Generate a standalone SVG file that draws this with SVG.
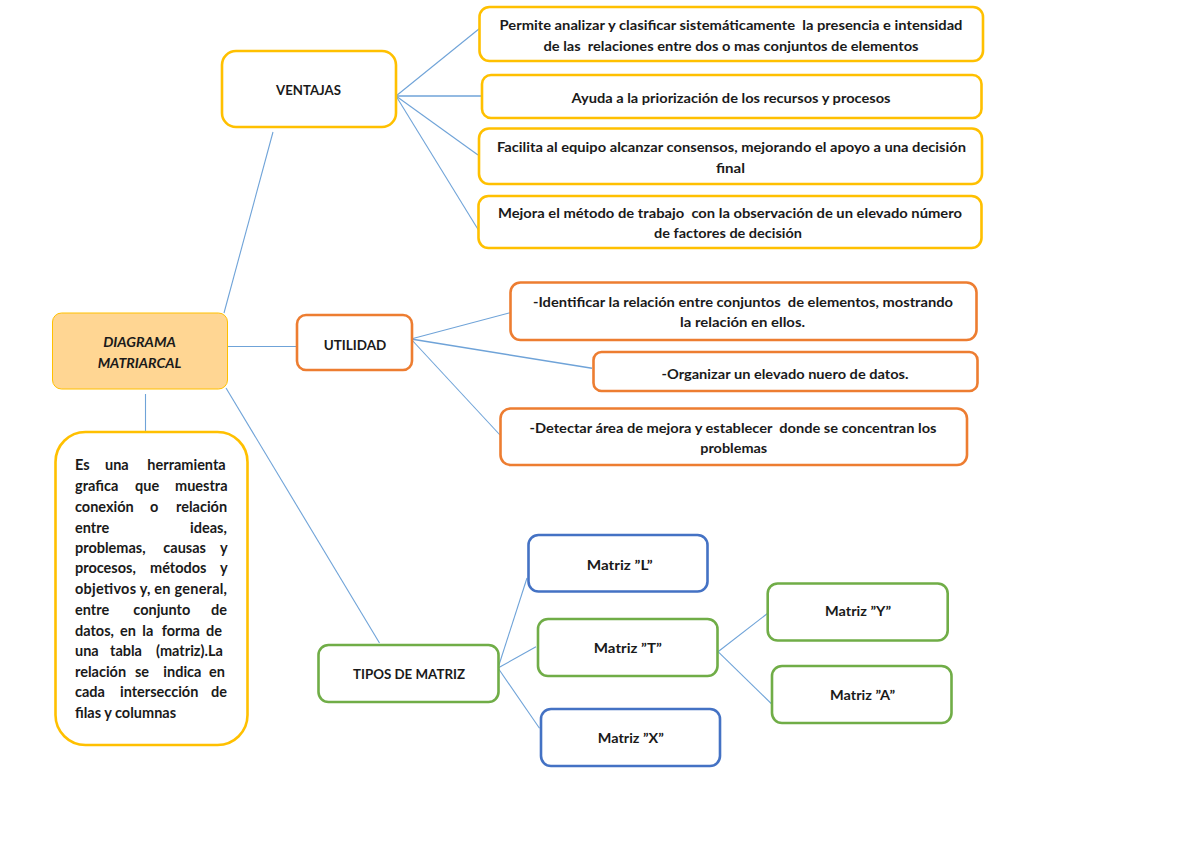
<svg xmlns="http://www.w3.org/2000/svg" width="1200" height="848" viewBox="0 0 1200 848">
<style>
text{font-family:Lato,"Liberation Sans","DejaVu Sans",sans-serif;font-weight:bold;font-size:14px;fill:#1a1a1a}
.c{text-anchor:middle}
.p{white-space:pre}
.d{font-size:14.5px}
.box{fill:#fff;stroke-width:2.6}
.y{stroke:#FFC000}
.o{stroke:#ED7D31}
.g{stroke:#70AD47}
.b{stroke:#4472C4}
#connectors line{stroke:#6FA3D8;stroke-width:1.1}
</style>
<rect width="1200" height="848" fill="#fff"/>
<g id="connectors">
<line x1="224" y1="313" x2="273" y2="132"/>
<line x1="228" y1="346.5" x2="297" y2="346.5"/>
<line x1="226" y1="388" x2="379.5" y2="643"/>
<line x1="145.5" y1="394" x2="145.5" y2="432"/>
<line x1="396" y1="96" x2="479.5" y2="28.5"/>
<line x1="396" y1="96" x2="482" y2="96" style="stroke-width:1.6"/>
<line x1="396" y1="96" x2="478" y2="155"/>
<line x1="396" y1="96" x2="479" y2="231"/>
<line x1="411" y1="339" x2="510" y2="312.7"/>
<line x1="411" y1="339" x2="592" y2="368.3" style="stroke-width:1.5"/>
<line x1="411" y1="339" x2="500" y2="435"/>
<line x1="498" y1="668" x2="527" y2="578"/>
<line x1="498" y1="668" x2="536" y2="646.7"/>
<line x1="498" y1="668" x2="539.5" y2="728.3"/>
<line x1="718" y1="651.7" x2="767.7" y2="613.3"/>
<line x1="718" y1="651.7" x2="772.7" y2="705"/>
</g>
<g id="main">
<rect x="52.5" y="313" width="175" height="76" rx="9" fill="#FFD693" stroke="#FFC000" stroke-width="1"/>
<text class="c" x="139.5" y="347" font-style="italic" textLength="72.7" lengthAdjust="spacingAndGlyphs">DIAGRAMA</text>
<text class="c" x="139.5" y="367.5" font-style="italic" textLength="83.7" lengthAdjust="spacingAndGlyphs">MATRIARCAL</text>
</g>
<g id="definicion">
<rect class="box y" x="55.5" y="432" width="192" height="313" rx="30" stroke-width="3"/>
<text class="d" y="470.2"><tspan x="75">Es</tspan><tspan x="105">una</tspan><tspan x="147.3">herramienta</tspan></text>
<text class="d" y="491.2"><tspan x="75">grafica</tspan><tspan x="135">que</tspan><tspan x="175">muestra</tspan></text>
<text class="d" y="511.8"><tspan x="75">conexión</tspan><tspan x="150">o</tspan><tspan x="176">relación</tspan></text>
<text class="d" y="532.5"><tspan x="75">entre</tspan><tspan x="190">ideas,</tspan></text>
<text class="d" y="552.8"><tspan x="75">problemas,</tspan><tspan x="163.3">causas</tspan><tspan x="220">y</tspan></text>
<text class="d" y="573.2"><tspan x="75">procesos,</tspan><tspan x="150">métodos</tspan><tspan x="220">y</tspan></text>
<text class="d" x="75" y="593.8" textLength="152" lengthAdjust="spacing">objetivos y, en general,</text>
<text class="d" y="614.5"><tspan x="75">entre</tspan><tspan x="133.3">conjunto</tspan><tspan x="211">de</tspan></text>
<text class="d" y="635.5"><tspan x="75">datos,</tspan><tspan x="120">en</tspan><tspan x="142.3">la</tspan><tspan x="161.7">forma</tspan><tspan x="206">de</tspan></text>
<text class="d" y="656.2"><tspan x="75">una</tspan><tspan x="110">tabla</tspan><tspan x="156">(matriz).La</tspan></text>
<text class="d" y="676.5"><tspan x="75">relación</tspan><tspan x="135">se</tspan><tspan x="163.3">indica</tspan><tspan x="209">en</tspan></text>
<text class="d" y="697.2"><tspan x="75">cada</tspan><tspan x="120">intersección</tspan><tspan x="211">de</tspan></text>
<text class="d" y="717.8" x="75">filas y columnas</text>
</g>
<g id="ventajas">
<rect class="box y" x="222" y="51" width="174" height="76" rx="14"/>
<text class="c" x="308.5" y="94.5" textLength="65" lengthAdjust="spacingAndGlyphs">VENTAJAS</text>
</g>
<g id="ventaja1">
<rect class="box y" x="479.5" y="7" width="503.5" height="54" rx="10"/>
<text class="c p" x="731" y="30" textLength="463" lengthAdjust="spacingAndGlyphs">Permite analizar y clasificar sistemáticamente  la presencia e intensidad</text>
<text class="c p" x="731" y="50.5" textLength="375" lengthAdjust="spacingAndGlyphs">de las  relaciones entre dos o mas conjuntos de elementos</text>
</g>
<g id="ventaja2">
<rect class="box y" x="482" y="75" width="499.5" height="43" rx="9"/>
<text class="c" x="731" y="103" textLength="319" lengthAdjust="spacingAndGlyphs">Ayuda a la priorización de los recursos y procesos</text>
</g>
<g id="ventaja3">
<rect class="box y" x="479" y="128.5" width="503" height="55.5" rx="10"/>
<text class="c" x="731.5" y="151.5" textLength="469" lengthAdjust="spacingAndGlyphs">Facilita al equipo alcanzar consensos, mejorando el apoyo a una decisión</text>
<text class="c" x="730.5" y="172.5" textLength="29" lengthAdjust="spacingAndGlyphs">final</text>
</g>
<g id="ventaja4">
<rect class="box y" x="478.5" y="196" width="503" height="52" rx="10"/>
<text class="c p" x="730" y="218" textLength="464" lengthAdjust="spacingAndGlyphs">Mejora el método de trabajo  con la observación de un elevado número</text>
<text class="c" x="728" y="238" textLength="148" lengthAdjust="spacingAndGlyphs">de factores de decisión</text>
</g>
<g id="utilidad">
<rect class="box o" x="297" y="315" width="115" height="55" rx="9"/>
<text class="c" x="355" y="349.5" textLength="62.6" lengthAdjust="spacingAndGlyphs">UTILIDAD</text>
</g>
<g id="utilidad1">
<rect class="box o" x="510.5" y="282.5" width="466" height="57.5" rx="10"/>
<text class="c p" x="743" y="307" textLength="420" lengthAdjust="spacingAndGlyphs">-Identificar la relación entre conjuntos  de elementos, mostrando</text>
<text class="c" x="742.5" y="327" textLength="125" lengthAdjust="spacingAndGlyphs">la relación en ellos.</text>
</g>
<g id="utilidad2">
<rect class="box o" x="593.5" y="352" width="384" height="39" rx="8"/>
<text class="c" x="785" y="379" textLength="247" lengthAdjust="spacingAndGlyphs">-Organizar un elevado nuero de datos.</text>
</g>
<g id="utilidad3">
<rect class="box o" x="500.5" y="408.5" width="466.5" height="56.5" rx="10"/>
<text class="c p" x="733" y="433" textLength="407" lengthAdjust="spacingAndGlyphs">-Detectar área de mejora y establecer  donde se concentran los</text>
<text class="c" x="733.7" y="453" textLength="67" lengthAdjust="spacingAndGlyphs">problemas</text>
</g>
<g id="tipos">
<rect class="box g" x="318.5" y="645" width="180" height="57" rx="10"/>
<text class="c" x="409" y="678.5" textLength="112" lengthAdjust="spacingAndGlyphs">TIPOS DE MATRIZ</text>
</g>
<g id="matrizL">
<rect class="box b" x="528.5" y="535" width="179" height="56.5" rx="10"/>
<text class="c" x="619.7" y="569.5" textLength="66" lengthAdjust="spacingAndGlyphs">Matriz ”L”</text>
</g>
<g id="matrizT">
<rect class="box g" x="538" y="619" width="179.5" height="57" rx="10"/>
<text class="c" x="627.8" y="653" textLength="68" lengthAdjust="spacingAndGlyphs">Matriz ”T”</text>
</g>
<g id="matrizX">
<rect class="box b" x="541" y="709" width="179" height="57" rx="10"/>
<text class="c" x="630.8" y="743" textLength="66" lengthAdjust="spacingAndGlyphs">Matriz ”X”</text>
</g>
<g id="matrizY">
<rect class="box g" x="767.7" y="583.5" width="180" height="57" rx="10"/>
<text class="c" x="858" y="616" textLength="66" lengthAdjust="spacingAndGlyphs">Matriz ”Y”</text>
</g>
<g id="matrizA">
<rect class="box g" x="772" y="666" width="179.5" height="57" rx="10"/>
<text class="c" x="862.5" y="700" textLength="65" lengthAdjust="spacingAndGlyphs">Matriz ”A”</text>
</g>
</svg>
